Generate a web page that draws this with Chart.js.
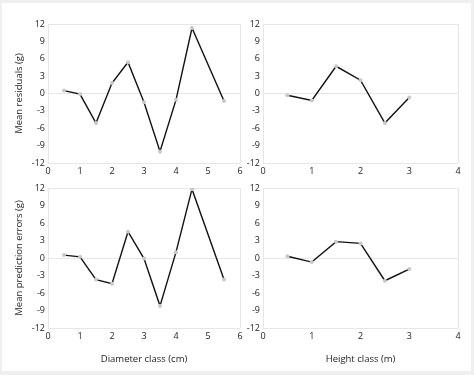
<!DOCTYPE html>
<html>
<head>
<meta charset="utf-8">
<script src="https://cdn.jsdelivr.net/npm/chart.js@4"></script>
<style>
  html, body { margin: 0; padding: 0; background: #efefef; }
  #wrap { position: relative; width: 474px; height: 375px; overflow: hidden; }
  #paper { position: absolute; left: 2px; top: 3px; width: 469px; height: 368px; background: #ffffff; }
  canvas { position: absolute; left: 0; top: 0; }
</style>
</head>
<body>
<div id="wrap">
  <div id="paper"></div>
  <canvas id="chartTL" width="474" height="375"></canvas>
  <canvas id="chartTR" width="474" height="375"></canvas>
  <canvas id="chartBL" width="474" height="375"></canvas>
  <canvas id="chartBR" width="474" height="375"></canvas>
</div>
<script>
// values
const diameterClass = [0.5, 1, 1.5, 2, 2.5, 3, 3.5, 4, 4.5, 5.5]
const diameterResiduals = [0.5, -0.1, -5.1, 1.8, 5.4, -1.5, -10.0, -1.1, 11.3, -1.3]
const diameterErrors = [0.5, 0.2, -3.7, -4.4, 4.5, -0.1, -8.2, 1.0, 11.8, -3.7]

const heightClass = [0.5, 1, 1.5, 2, 2.5, 3]
const heightResiduals = [-0.3, -1.2, 4.7, 2.3, -5.1, -0.7]
const heightErrors = [0.3, -0.7, 2.8, 2.5, -3.9, -1.9]

const yMin = -12
const yMax = 12
const yStep = 3

Chart.defaults.font.family = "'Open Sans', 'Noto Sans', sans-serif"
Chart.defaults.font.size = 9
Chart.defaults.color = "#222"

const faint = '#e6e6e6'

function makePanel(id, xs, ys, xMax, p) {
  const points = xs.map((x, i) => ({ x: x, y: ys[i] }))
  return new Chart(document.getElementById(id), {
    type: 'line',
    data: {
      datasets: [{
        data: points,
        borderColor: '#111',
        borderWidth: 1.4,
        pointRadius: 2,
        pointBorderWidth: 0,
        pointBackgroundColor: '#c8c8c8',
        tension: 0,
      }]
    },
    options: {
      responsive: false,
      animation: false,
      layout: { padding: p.padding },
      plugins: { legend: { display: false }, tooltip: { enabled: false } },
      scales: {
        x: {
          type: 'linear',
          min: 0,
          max: xMax,
          ticks: { stepSize: 1, padding: 3, color: '#222' },
          border: { display: false },
          grid: {
            drawTicks: false,
            color: c => (c.tick.value === 0 || c.tick.value === xMax) ? faint : 'rgba(0,0,0,0)',
          },
          title: {
            display: !!p.xTitle,
            text: p.xTitle || '',
            color: '#222',
            font: { size: 9.5 },
            padding: { top: 4, bottom: 4 },
          },
          afterFit: s => { s.height = p.xHeight },
        },
        y: {
          min: yMin,
          max: yMax,
          ticks: { stepSize: yStep, padding: 3, color: '#222' },
          border: { display: false },
          grid: {
            drawTicks: false,
            color: c => (c.tick.value === 0 || c.tick.value === yMin || c.tick.value === yMax) ? faint : 'rgba(0,0,0,0)',
          },
          title: {
            display: !!p.yTitle,
            text: p.yTitle || '',
            color: '#222',
            font: { size: 9.5 },
            padding: { top: 4, bottom: 0 },
          },
          afterFit: s => { s.width = p.yWidth },
        },
      },
    },
  })
}

// top left
makePanel('chartTL', diameterClass, diameterResiduals, 6, {
  padding: { left: 10, top: 24, right: 234, bottom: 190 },
  yWidth: 38, xHeight: 22, yTitle: 'Mean residuals (g)',
})

// top right
makePanel('chartTR', heightClass, heightResiduals, 4, {
  padding: { left: 238, top: 24, right: 16, bottom: 190 },
  yWidth: 25, xHeight: 22,
})

// bottom left
makePanel('chartBL', diameterClass, diameterErrors, 6, {
  padding: { left: 10, top: 188, right: 234, bottom: 6 },
  yWidth: 38, xHeight: 41, yTitle: 'Mean prediction errors (g)', xTitle: 'Diameter class (cm)',
})

// bottom right
makePanel('chartBR', heightClass, heightErrors, 4, {
  padding: { left: 238, top: 188, right: 16, bottom: 6 },
  yWidth: 25, xHeight: 41, xTitle: 'Height class (m)',
})
</script>
</body>
</html>
